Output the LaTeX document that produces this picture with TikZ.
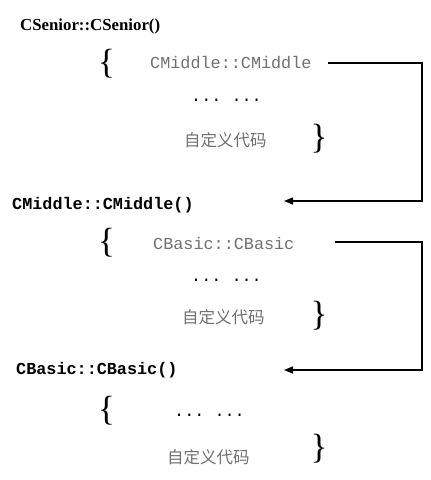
\documentclass[tikz,border=0pt]{standalone}
\usepackage{fontspec}
\setmainfont{Liberation Serif}
\setmonofont{Liberation Mono}
\newfontfamily\cjk{Noto Sans CJK SC}
\usetikzlibrary{arrows.meta,calc}
\definecolor{codegray}{HTML}{707070}
\tikzset{
  hdr/.style={inner sep=0pt, anchor=west, font=\fontsize{16.8}{18}\selectfont\ttfamily\bfseries},
  hdrserif/.style={inner sep=0pt, anchor=west, font=\fontsize{16.8}{18}\selectfont\bfseries},
  call/.style={inner sep=0pt, anchor=west, text=codegray, font=\fontsize{16.8}{18}\selectfont\ttfamily},
  dots/.style={inner sep=0pt, anchor=west, font=\fontsize{16.8}{18}\selectfont\ttfamily},
  cn/.style={inner sep=0pt, anchor=west, text=codegray, font=\fontsize{16.5}{18}\selectfont\cjk},
  brace/.style={inner sep=0pt, font=\fontsize{35}{36}\selectfont},
  conn/.style={line width=1.4pt, -{Triangle[length=9pt,width=7pt]}}
}
\begin{document}
\begin{tikzpicture}[x=1pt,y=-1pt]
\useasboundingbox (0,0) rectangle (431,480);
% section 1
\node[hdrserif] (senior) at (20,26) {CSenior::CSenior()};
\node[brace] (lb1) at (106.5,64) {\{};
\node[call] (cm) at (150,63) {CMiddle::CMiddle};
\node[dots] (d1) at (191,100) {... ...};
\node[cn] (z1) at (184,140) {自定义代码};
\node[brace] (rb1) at (319,139) {\}};
% section 2
\node[hdr] (middle) at (12,205) {CMiddle::CMiddle()};
\node[brace] (lb2) at (106.5,243) {\{};
\node[call] (cb) at (153,243) {CBasic::CBasic};
\node[dots] (d2) at (191,280) {... ...};
\node[cn] (z2) at (182,317) {自定义代码};
\node[brace] (rb2) at (319,316) {\}};
% section 3
\node[hdr] (basic) at (16,370) {CBasic::CBasic()};
\node[brace] (lb3) at (106.5,411) {\{};
\node[dots] (d3) at (174,415) {... ...};
\node[cn] (z3) at (167,457) {自定义代码};
\node[brace] (rb3) at (319,449) {\}};
% connectors
\coordinate (s1) at (328,63);
\coordinate (t1) at (422,63);
\coordinate (e1) at (284,201);
\coordinate (s2) at (335,242);
\coordinate (t2) at (422,242);
\coordinate (e2) at (284,370);
\draw[conn] (s1) -- (t1) |- (e1);
\draw[conn] (s2) -- (t2) |- (e2);
\end{tikzpicture}
\end{document}
